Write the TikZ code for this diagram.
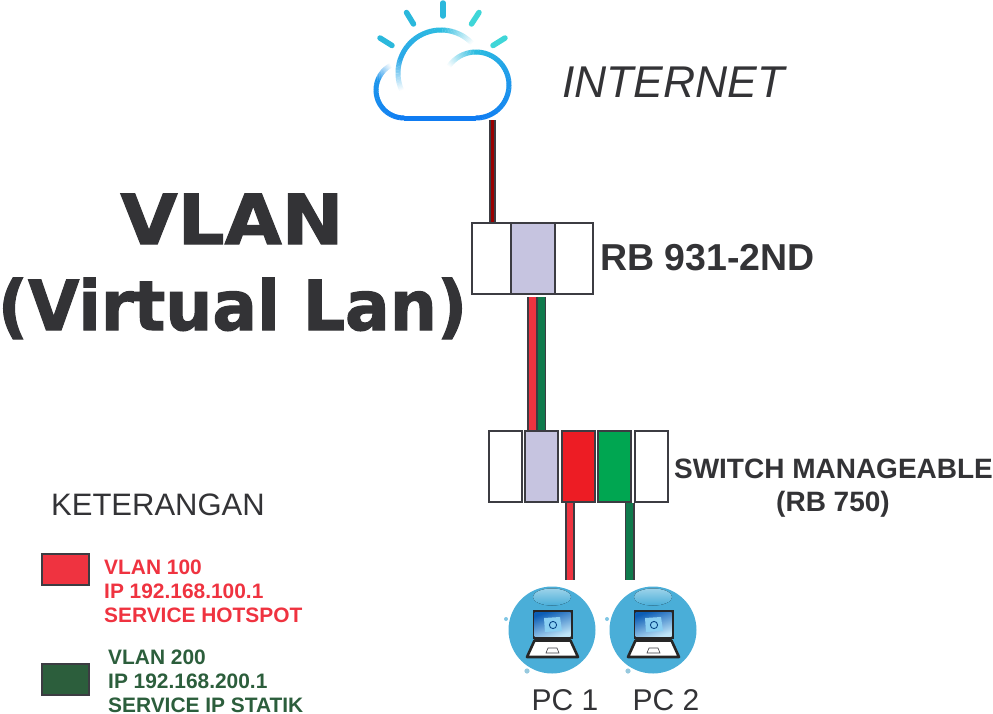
\documentclass[tikz,border=0pt]{standalone}
\usepackage{fontspec}
\usepackage{graphicx}
\setmainfont{Liberation Sans}
\newfontfamily\titlefont[BoldFont={DejaVu Sans Bold},BoldFeatures={FakeBold=1.6}]{DejaVu Sans}
\usetikzlibrary{calc}
\definecolor{ink}{HTML}{333336}
\definecolor{edge}{HTML}{3C3C42}
\definecolor{lav}{HTML}{C6C4E0}
\definecolor{vred}{HTML}{EF3340}
\definecolor{vgreen}{HTML}{0F7A4C}
\definecolor{bred}{HTML}{ED1C24}
\definecolor{bgreen}{HTML}{00A651}
\definecolor{lgreen}{HTML}{2C5E3C}
\definecolor{disc}{HTML}{4AAED8}
\definecolor{rayL}{HTML}{2BB8DC}
\definecolor{rayR}{HTML}{3FD6D8}
\definecolor{cA}{HTML}{2AA8E8}
\definecolor{cB}{HTML}{2CBCE0}
\definecolor{cC}{HTML}{0F7CF2}
\definecolor{cD}{HTML}{1E96EC}
\tikzset{
  x=1pt,y=-1pt,
  port/.style={draw=edge,line width=1.9pt,inner sep=0pt,minimum width=#1,minimum height=71pt,fill=white},
  txt/.style={anchor=base west,inner sep=0pt,text=ink},
  ctxt/.style={anchor=base,inner sep=0pt,text=ink},
  raya/.style={line width=5.5pt,line cap=round,rayL},
  rayb/.style={line width=5.5pt,line cap=round,rayR},
  outer/.style={edge,line width=#1},
  lgd/.style={draw=edge,line width=2pt,minimum width=47pt,minimum height=31pt,inner sep=0pt},
}
% arc drawn in small steps with a colour ramp: cx cy r a0 a1 c0 c1
\newcommand{\ramparc}[7]{%
  \foreach \k in {0,...,23}{%
    \pgfmathsetmacro{\aa}{#4+(#5-#4)*\k/24}%
    \pgfmathsetmacro{\ab}{#4+(#5-#4)*(\k+1.15)/24}%
    \pgfmathsetmacro{\pc}{100*\k/23}%
    \colorlet{rampc}{#7!\pc!#6}%
    \draw[rampc,line width=5pt] ({#1+#3*cos(\aa)},{#2+#3*sin(\aa)}) -- ({#1+#3*cos(\ab)},{#2+#3*sin(\ab)});
  }}
\newcommand{\pcunit}[2]{% name, cx
  \node[circle,fill=disc,minimum size=87pt,inner sep=0pt] (#1) at (#2,630) {};
  \fill[top color=disc!55!white,bottom color=disc] (#2,597) ellipse [x radius=19pt,y radius=8.5pt];
  \fill[black!10!disc!55!white] (#2-25,671) circle [radius=2.6pt];
  \fill[disc!70!white] (#2-46,619) circle [radius=2pt];
  \fill[black!85] (#2-19.5,610) rectangle (#2+20.5,639);
  \shade[top color=cC!75!black,bottom color=white!70!cA,shading angle=20] (#2-17.5,612) rectangle (#2+18.5,636.5);
  \fill[white!45!cA] (#2-8,618) -- (#2+8,617) -- (#2+10,631) -- (#2-7,632) -- cycle;
  \draw[cC!55!black,line width=.9pt] (#2+1,625) circle [radius=3.6pt];
  \draw[black!85,fill=white,line width=2.6pt,line join=round] (#2-17.5,640.5) -- (#2+18.5,640.5) -- (#2+26,657) -- (#2-25,657) -- cycle;
  \draw[edge,line width=.6pt] (#2-4,648) -- (#2+5,648) -- (#2+7,653) -- (#2-6,653) -- cycle;
}
\begin{document}
\begin{tikzpicture}
\useasboundingbox (0,0) rectangle (993,713);
% cloud
\draw[raya] (443,3) -- (443,16);
\draw[raya] (406.5,12.5) -- (413.5,24);
\draw[raya] (380,38) -- (392,45.5);
\draw[rayb] (479,12.5) -- (471.5,24);
\draw[rayb] (505,38) -- (493,45.5);
\ramparc{441}{73}{43}{155}{200}{white}{cA}
\ramparc{441}{73}{43}{200}{270}{cA}{cB}
\ramparc{441}{73}{43}{270}{318}{cB}{white}
\ramparc{404}{90}{28}{243}{200}{white}{cD}
\ramparc{404}{90}{28}{200}{90}{cD}{cC}
\ramparc{476}{85}{33}{213}{270}{white}{cB}
\ramparc{476}{85}{33}{270}{360}{cB}{cD}
\ramparc{476}{85}{33}{360}{450}{cD}{cC}
\draw[cC,line width=5pt] (404,118) -- (476,118);
\coordinate (cloudout) at (492.5,120);
% RB 931
\coordinate (rbmidpt) at (533,258.5);
\node[port=39pt] (rba) at (491.5,258.5) {};
\node[port=38pt] (rbc) at (574,258.5) {};
\node[port=44pt,fill=lav] (rbb) at (rbmidpt) {};
% Switch
\node[port=33pt] (swa) at (505.5,466.5) {};
\node[port=33pt,fill=lav] (swb) at (541.5,466.5) {};
\node[port=33pt,fill=bred] (swc) at (578.5,466.5) {};
\node[port=33pt,fill=bgreen] (swd) at (614.5,466.5) {};
\node[port=33pt] (swe) at (651.5,466.5) {};
% PCs
\pcunit{pca}{552}
\pcunit{pcb}{653}
\coordinate (pcain) at (570,580);
\coordinate (pcbin) at (629.5,580);
% links
\draw[outer=6.5pt] (cloudout) -- (cloudout |- rba.north);
\draw[red!60!black,line width=3pt] (cloudout) -- (cloudout |- rba.north);
\coordinate (up1) at (532,297);
\coordinate (up2) at (541,297);
\draw[outer=10.5pt] (up1) -- (up1 |- swb.north);
\draw[outer=10.5pt] (up2) -- (up2 |- swb.north);
\draw[vred,line width=7pt] (up1) -- (up1 |- swb.north);
\draw[vgreen,line width=7pt] (up2) -- (up2 |- swb.north);
\draw[outer=10pt] (pcain |- swc.south) -- (pcain);
\draw[vred,line width=6.5pt] (pcain |- swc.south) -- (pcain);
\draw[outer=10pt] (pcbin |- swd.south) -- (pcbin);
\draw[vgreen,line width=6.5pt] (pcbin |- swd.south) -- (pcbin);
% texts
\node[txt,font=\itshape\fontsize{44.5}{44.5}\selectfont] (inet) at (562,97) {INTERNET};
\node[ctxt,font=\titlefont\bfseries\fontsize{69}{69}\selectfont] (t1) at (232,244) {\scalebox{1.07}[1]{VLAN}};
\node[ctxt,font=\titlefont\bfseries\fontsize{69}{69}\selectfont] (t2) at (232.5,330) {\scalebox{0.96}[1]{(Virtual Lan)}};
\node[txt,font=\bfseries\fontsize{37.5}{37.5}\selectfont] (rblab) at (600,270) {RB 931-2ND};
\node[ctxt,font=\bfseries\fontsize{28}{28}\selectfont] (swl1) at (833.5,478) {SWITCH MANAGEABLE};
\node[ctxt,font=\bfseries\fontsize{28}{28}\selectfont] (swl2) at (833,511) {(RB 750)};
\node[txt,font=\fontsize{31}{31}\selectfont] (ket) at (51,515) {KETERANGAN};
\node[ctxt,font=\fontsize{30}{30}\selectfont] (pc1) at (565,710) {PC 1};
\node[ctxt,font=\fontsize{30}{30}\selectfont] (pc2) at (666,710) {PC 2};
% legend
\node[lgd,fill=vred] (lr) at (65,569) {};
\node[lgd,fill=lgreen] (lg) at (65,679) {};
\node[txt,text=vred,font=\bfseries\fontsize{20.9}{20.9}\selectfont] (r1) at (104,574) {VLAN 100};
\node[txt,text=vred,font=\bfseries\fontsize{20.9}{20.9}\selectfont] (r2) at (104,598) {IP 192.168.100.1};
\node[txt,text=vred,font=\bfseries\fontsize{20.9}{20.9}\selectfont] (r3) at (104,622) {SERVICE HOTSPOT};
\node[txt,text=lgreen,font=\bfseries\fontsize{20.9}{20.9}\selectfont] (g1) at (108,664) {VLAN 200};
\node[txt,text=lgreen,font=\bfseries\fontsize{20.9}{20.9}\selectfont] (g2) at (108,688) {IP 192.168.200.1};
\node[txt,text=lgreen,font=\bfseries\fontsize{20.9}{20.9}\selectfont] (g3) at (108,712) {SERVICE IP STATIK};
\end{tikzpicture}
\end{document}
